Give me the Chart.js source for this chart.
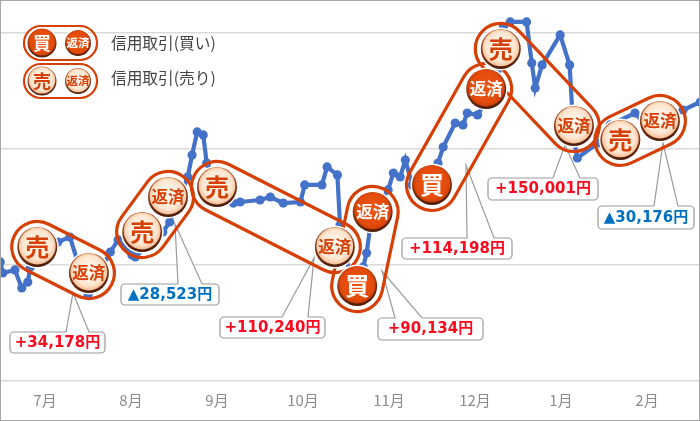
<!DOCTYPE html>
<html lang="ja"><head><meta charset="utf-8">
<style>html,body{margin:0;padding:0;background:#fff}canvas{display:block}</style>
<script src="https://cdn.jsdelivr.net/npm/chart.js@4"></script>
</head><body>
<canvas id="c" width="700" height="421"></canvas>
<script>
const monthLabels = ["7月","8月","9月","10月","11月","12月","1月","2月"];
const monthTicks = [0,1,2,3,4,5,6,7];
const gridValues = [0,1000,2000,3000];
const seriesX = [-0.52,-0.49,-0.35,-0.27,-0.20,-0.17,0.15,0.29,0.38,0.50,0.76,0.85,1.01,1.05,1.37,1.45,1.66,1.71,1.77,1.84,1.88,1.98,2.19,2.27,2.50,2.62,2.77,2.97,3.02,3.22,3.28,3.40,3.43,3.57,3.70,3.74,3.80,3.99,4.05,4.13,4.19,4.27,4.42,4.57,4.63,4.77,4.86,4.91,5.03,5.17,5.26,5.33,5.41,5.60,5.66,5.70,5.78,5.99,6.10,6.13,6.15,6.19,6.43,6.57,6.86,6.98,7.42,7.62];
const seriesY = [1026,931,957,802,853,983,1198,1241,1026,741,1112,1216,1086,1069,1284,1371,1759,1948,2147,2121,1879,1733,1534,1543,1560,1586,1534,1543,1690,1690,1845,1776,1345,828,983,1103,1431,1647,1793,1759,1905,1690,1603,1879,2017,2224,2207,2310,2293,2466,2681,3052,3095,3095,2741,2526,2724,2983,2724,2336,2078,1922,2052,2207,2310,2207,2336,2405];
const tradeOpenLabels  = ["売","売","売","買","買","売","売"];
const tradeOpenX  = [-0.09,1.13,2.00,3.63,4.50,5.30,6.69];
const tradeOpenY  = [1155,1284,1672,819,1690,2862,2078];
const tradeCloseX = [0.51,1.43,3.37,3.81,5.13,6.15,7.15];
const tradeCloseY = [931,1586,1155,1457,2517,2198,2241];
const profitLabels = ["+34,178円","▲28,523円","+110,240円","+90,134円","+114,198円","+150,001円","▲30,176円"];
const legendLabels = ["信用取引(買い)","信用取引(売り)"];

const JP = '"Noto Sans CJK JP"';
const ORANGE = '#d63f06';
const callouts = [
 {box:[10,332,95,21],tip:[73,293],base:[66,89]},
 {box:[121,284,98,21],tip:[175,224],base:[178,202]},
 {box:[220,317,105,21],tip:[314,258],base:[282,308]},
 {box:[378,318,105,22],tip:[382,271],base:[395,422]},
 {box:[402,238,110,21],tip:[466,165],base:[467,494]},
 {box:[488,178,110,22],tip:[565,145],base:[553,580]},
 {box:[598,206,96,23],tip:[663,143],base:[654,678]}
];

function pill(ctx,x1,y1,x2,y2,r,w){
  const a=Math.atan2(y2-y1,x2-x1);
  ctx.beginPath();
  ctx.arc(x2,y2,r,a-Math.PI/2,a+Math.PI/2);
  ctx.arc(x1,y1,r,a+Math.PI/2,a+Math.PI*1.5);
  ctx.closePath();
  ctx.strokeStyle=ORANGE;ctx.lineWidth=w;ctx.stroke();
}
function badge(ctx,x,y,r,text,dark,size){
  ctx.beginPath();ctx.arc(x,y,r+1.5,0,Math.PI*2);ctx.fillStyle='#fff';ctx.fill();
  const rim=ctx.createLinearGradient(x,y-r,x+r*0.4,y+r);
  rim.addColorStop(0,dark?'#d2501a':'#b9683c');rim.addColorStop(.55,'#7a3012');rim.addColorStop(1,'#4a1c0a');
  ctx.beginPath();ctx.arc(x,y,r,0,Math.PI*2);ctx.fillStyle=rim;ctx.fill();
  const g=ctx.createRadialGradient(x,y-r*0.1,r*0.2,x,y-r*0.1,r*0.95);
  if(dark){g.addColorStop(0,'#ea5310');g.addColorStop(.75,'#e44c0c');g.addColorStop(1,'#cf4108');}
  else{g.addColorStop(0,'#fff6ec');g.addColorStop(.7,'#fde6d0');g.addColorStop(1,'#f6bf98');}
  ctx.beginPath();ctx.arc(x,y-r*0.05,r*0.92,0,Math.PI*2);ctx.fillStyle=g;ctx.fill();
  ctx.fillStyle=dark?'#fff':ORANGE;
  ctx.font='bold '+size+'px '+JP;ctx.textAlign='center';ctx.textBaseline='middle';
  ctx.fillText(text,x,y);
}
function roundedCallout(ctx,c,text){
  const [x,y,w,h]=c.box,r=4;
  ctx.beginPath();
  ctx.moveTo(x+r,y);
  ctx.lineTo(c.base[0],y);ctx.lineTo(c.tip[0],c.tip[1]);ctx.lineTo(c.base[1],y);
  ctx.lineTo(x+w-r,y);ctx.arcTo(x+w,y,x+w,y+r,r);
  ctx.lineTo(x+w,y+h-r);ctx.arcTo(x+w,y+h,x+w-r,y+h,r);
  ctx.lineTo(x+r,y+h);ctx.arcTo(x,y+h,x,y+h-r,r);
  ctx.lineTo(x,y+r);ctx.arcTo(x,y,x+r,y,r);ctx.closePath();
  ctx.fillStyle='#fff';ctx.fill();
  ctx.strokeStyle='#9a9a9a';ctx.lineWidth=1.2;ctx.stroke();
  ctx.fillStyle=text[0]==='▲'?'#0070c0':'#fa0a1e';
  ctx.font='bold 15px "DejaVu Sans",'+JP;ctx.textAlign='center';ctx.textBaseline='middle';
  ctx.fillText(text,x+w/2,y+h/2+0.5);
}
const overlay={id:'overlay',afterDatasetsDraw(chart){
  const ctx=chart.ctx,X=chart.scales.x,Y=chart.scales.y;ctx.save();
  callouts.forEach((c,i)=>roundedCallout(ctx,c,profitLabels[i]));
  const pos=tradeOpenX.map((_,i)=>({ax:X.getPixelForValue(tradeOpenX[i]),ay:Y.getPixelForValue(tradeOpenY[i]),bx:X.getPixelForValue(tradeCloseX[i]),by:Y.getPixelForValue(tradeCloseY[i])}));
  pos.forEach(p=>pill(ctx,p.ax,p.ay,p.bx,p.by,25.5,3.2));
  pos.forEach((p,i)=>{
    const dark=tradeOpenLabels[i]==='買';
    badge(ctx,p.ax,p.ay,20,tradeOpenLabels[i],dark,24);
    badge(ctx,p.bx,p.by,20,'返済',dark,16.5);
  });
  [[43,43,'買',true],[81,78,'売',false]].forEach(([ly,ty,t,dark],i)=>{
    pill(ctx,41,ly,80,ly,17,2.2);
    badge(ctx,42,ly,14.5,t,dark,18);
    badge(ctx,78,ly,13,'返済',dark,11.5);
    ctx.fillStyle='#444';ctx.font='15.7px '+JP;ctx.textAlign='left';ctx.textBaseline='middle';
    ctx.fillText(legendLabels[i],111,ty);
  });
  ctx.strokeStyle='#a6a6a6';ctx.lineWidth=2;ctx.strokeRect(0,0,700,421);
  ctx.restore();
}};
new Chart(document.getElementById('c'),{
  type:'line',
  data:{datasets:[{data:seriesX.map((x,i)=>({x,y:seriesY[i]})),borderColor:'#4472c8',backgroundColor:'#4472c8',borderWidth:4.2,pointRadius:4.6,pointBorderWidth:0,tension:0,fill:false,clip:false}]},
  plugins:[overlay],
  options:{responsive:false,animation:false,
    layout:{padding:0,autoPadding:false},
    plugins:{legend:{display:false},tooltip:{enabled:false}},
    scales:{
      x:{type:'linear',min:-0.5233,max:7.6163,
         afterBuildTicks(s){s.ticks=monthTicks.map(v=>({value:v}));},
         afterFit(s){s.height=40;s.paddingLeft=0;s.paddingRight=0;},
         grid:{display:false},border:{display:false},
         ticks:{autoSkip:false,maxRotation:0,padding:2,color:'#8c8c8c',font:{family:JP,size:15},callback:v=>monthLabels[v]||''}},
      y:{min:0,max:3284,
         afterBuildTicks(s){s.ticks=gridValues.map(v=>({value:v}));},
         afterFit(s){s.width=0;s.paddingTop=0;s.paddingBottom=0;},
         grid:{color:'#d9d9d9',lineWidth:1.6,drawTicks:false},border:{display:false},
         ticks:{display:false}}
    }
  }
});
</script>
</body></html>
